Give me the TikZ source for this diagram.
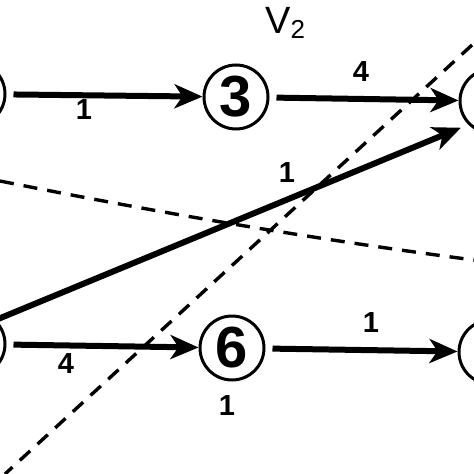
\documentclass[tikz,border=0pt]{standalone}
\usepackage{fontspec}
\setmainfont{Liberation Sans}
\usetikzlibrary{arrows.meta}

\tikzset{
  vertex/.style={draw, circle, line width=3pt, minimum size=64pt, inner sep=0pt,
    font=\fontsize{58}{58}\selectfont\bfseries},
  edge/.style={line width=6pt, -{Stealth[length=28pt,width=24pt,inset=8pt]},
    shorten <=7pt},
  cut/.style={line width=3.4pt, dash pattern=on 14pt off 10pt},
  weight/.style={inner sep=0pt, font=\fontsize{29}{29}\selectfont\bfseries}
}

\begin{document}
\begin{tikzpicture}[x=1pt,y=1pt,yscale=-1,xscale=1]
\useasboundingbox (0,0) rectangle (474,474);
\clip (0,0) rectangle (474,474);

%Shape: Circles (top row)
\node [vertex] (nL1) at (-27,94) {};
\node [vertex] (n3) at (236,97) {3};
\node [vertex] (nR1) at (492,101) {};
%Shape: Circles (bottom row)
\node [vertex] (nL2) at (-27,344) {};
\node [vertex] (n6) at (232,348) {6};
\node [vertex] (nR2) at (491,352) {};
\coordinate (src) at (-60,343);

%Straight Lines (edges)
\draw [edge] (nL1) -- (n3);
\draw [edge] (n3) -- (nR1);
\draw [edge] (nL2) -- (n6);
\draw [edge] (n6) -- (nR2);
\draw [edge, shorten >=8pt] (src) -- (nR1.south west);

%Dashed Lines (cuts)
\coordinate (cutA1) at (472,45);
\coordinate (cutA2) at (5,474);
\coordinate (cutB1) at (0,181);
\coordinate (cutB2) at (474,260);
\draw [cut] (cutA1) -- (cutA2);
\draw [cut] (cutB1) .. controls (158,212.6) and (316,239.5) .. (cutB2);

% Text Node
\node [weight] (w13) at (84,110) {1};
% Text Node
\node [weight] (w3R) at (361,72) {4};
% Text Node
\node [weight] (wlong) at (287,173) {1};
% Text Node
\node [weight] (w46) at (66,364) {4};
% Text Node
\node [weight] (w6R) at (371,323) {1};
% Text Node
\node [weight] (w6) at (227,406) {1};
% Text Node
\node [anchor=base west, inner sep=0pt, font=\fontsize{38}{38}\selectfont] (v2) at (265,33)
  {V\raisebox{-5pt}{\fontsize{26}{26}\selectfont 2}};

\end{tikzpicture}
\end{document}
